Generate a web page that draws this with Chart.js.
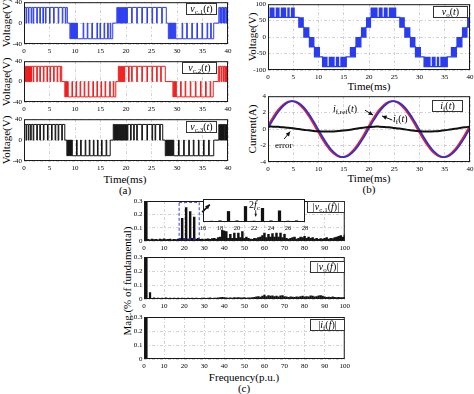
<!DOCTYPE html>
<html>
<head>
<meta charset="utf-8">
<script src="https://cdn.jsdelivr.net/npm/chart.js@4.4.1/dist/chart.umd.min.js"></script>
<style>
  body { margin: 0; width: 474px; height: 394px; position: relative; overflow: hidden; background: #fff;
         font-family: "Liberation Serif", "DejaVu Serif", serif; color: #000; }
  .plot { position: absolute; }
  .txt { position: absolute; white-space: nowrap; font-size: 11px; line-height: 11px; transform: translate(-50%, -50%); }
  .ylab { position: absolute; white-space: nowrap; font-size: 11px; line-height: 11px; transform: translate(-50%, -50%) rotate(-90deg); }
  .tag { position: absolute; height: 10px; border: 1px solid #333; background: #fff; font-size: 10px; line-height: 10px;
         text-align: center; white-space: nowrap; z-index: 5; }
  .note { position: absolute; white-space: nowrap; font-size: 10px; line-height: 10px; z-index: 5; }
  sub { font-size: 7px; vertical-align: -2px; line-height: 0; }
</style>
</head>
<body>
<div class="ylab" style="left:6px;top:23px">Voltage(V)</div>
<div class="ylab" style="left:6px;top:82px">Voltage(V)</div>
<div class="ylab" style="left:6px;top:140px">Voltage(V)</div>
<div class="txt" style="left:125px;top:179px">Time(ms)</div>
<div class="txt" style="left:125px;top:190px">(a)</div>

<div class="ylab" style="left:252px;top:37px">Voltage(V)</div>
<div class="txt" style="left:369px;top:86px">Time(ms)</div>
<div class="ylab" style="left:252px;top:129px">Current(A)</div>
<div class="txt" style="left:369px;top:178px">Time(ms)</div>
<div class="txt" style="left:369px;top:189px">(b)</div>

<div class="ylab" style="left:127px;top:281px">Mag.(% of fundamental)</div>
<div class="txt" style="left:244px;top:377px">Frequency(p.u.)</div>
<div class="txt" style="left:244px;top:388px">(c)</div>

<div class="tag" style="left:186px;top:3px;width:29px"><i>v</i><sub>c,1</sub>(<i>t</i>)</div>
<div class="tag" style="left:182px;top:62px;width:33px"><i>v</i><sub>c,2</sub>(<i>t</i>)</div>
<div class="tag" style="left:186px;top:121px;width:29px"><i>v</i><sub>c,3</sub>(<i>t</i>)</div>
<div class="tag" style="left:433px;top:6px;width:33px"><i>v</i><sub>o</sub>(<i>t</i>)</div>
<div class="tag" style="left:432px;top:100px;width:29px"><i>i</i><sub>f</sub>(<i>t</i>)</div>
<div class="tag" style="left:307px;top:201px;width:36px">|<i>v</i><sub>c,1</sub>(<i>f</i>)|</div>
<div class="tag" style="left:310px;top:261px;width:33px">|<i>v</i><sub>o</sub>(<i>f</i>)|</div>
<div class="tag" style="left:310px;top:319px;width:33px">|<i>i</i><sub>f</sub>(<i>f</i>)|</div>

<div class="note" style="left:333px;top:104px"><i>i</i><sub>f,ref</sub>(<i>t</i>)</div>
<div class="note" style="left:393px;top:114px"><i>i</i><sub>f</sub>(<i>t</i>)</div>
<div class="note" style="left:275px;top:140px;font-size:9px">error</div>
<div class="note" style="left:249px;top:200px;z-index:9">2<i>f</i><sub>c</sub></div>

<script>
// ---------- data ----------
const timeMs = [0, 1, 2, 3, 4, 5, 6, 7, 8, 9, 10, 11, 12, 13, 14, 15, 16, 17, 18, 19, 20,
  21, 22, 23, 24, 25, 26, 27, 28, 29, 30, 31, 32, 33, 34, 35, 36, 37, 38, 39, 40];

// (a) cell voltages: level changes [ms, V] and short dips to 0 V (ms)
const vc1Steps = [[0, 30], [8.5, 0], [9.0, -30], [17.4, 0], [18.2, 30], [27.9, 0], [28.3, -30], [37.2, 0], [38.2, 30]];
const vc1Dips = [0.4, 0.85, 1.4, 1.8, 2.5, 3.1, 3.7, 4.2, 5.0, 5.8, 6.7, 7.5, 8.1,
  9.15, 9.35, 9.55, 9.75, 9.95, 10.15, 10.35, 11.6, 12.4, 13.3, 14.3, 14.9, 15.7, 16.4, 16.9,
  18.35, 18.55, 18.75, 18.95, 19.15, 19.35, 19.55, 19.75, 19.95, 20.15, 21.1, 22.1, 23.1, 24.1, 25.1, 26.0, 27.0,
  28.45, 28.65, 28.85, 29.05, 29.25, 29.45, 29.65, 31.0, 31.9, 32.9, 33.9, 34.9, 35.9, 36.6,
  38.4, 38.7, 39.0, 39.3, 39.6];

const vc2Steps = [[0, 30], [7.4, 0], [8.0, -30], [18.0, 0], [18.5, 30], [27.7, 0], [29.2, -30], [37.1, 0], [38.1, 30]];
const vc2Dips = [0.15, 0.35, 0.55, 0.75, 0.95, 1.15, 1.35, 1.8, 2.5, 3.1, 3.8, 4.5, 5.1, 5.8, 6.5, 7.1,
  8.15, 8.35, 8.55, 9.4, 10.2, 11.0, 11.8, 12.6, 13.5, 14.3, 15.1, 15.9, 16.8, 17.5,
  18.65, 18.85, 19.05, 19.25, 19.45, 19.65, 20.5, 21.1, 22.1, 23.1, 24.1, 25.1, 26.0, 26.8,
  29.35, 29.55, 29.75, 30.7, 31.6, 32.6, 33.6, 34.6, 35.6, 36.5,
  38.3, 38.7, 39.1, 39.4, 39.7];

const vc3Steps = [[0, 30], [8.0, 0], [8.4, -30], [16.9, 0], [17.5, 30], [27.2, 0], [27.7, -30], [37.2, 0], [38.2, 30]];
const vc3Dips = [0.4, 0.85, 1.3, 1.8, 2.5, 3.1, 3.8, 4.6, 5.4, 6.1, 6.7, 7.4,
  8.55, 8.75, 8.95, 9.15, 9.35, 10.3, 11.1, 12.0, 12.8, 13.6, 14.4, 15.2, 16.1,
  17.65, 17.85, 18.05, 18.25, 18.45, 18.65, 18.85, 19.05, 19.25, 19.45, 19.65, 19.85, 20.05, 20.25,
  20.9, 21.5, 22.1, 23.1, 24.1, 25.1, 25.7, 26.6,
  27.85, 28.05, 28.25, 28.45, 28.65, 28.85, 29.05, 29.25, 30.3, 31.3, 32.3, 33.2, 34.2, 35.2, 36.2,
  38.35, 38.55, 38.75, 38.95, 39.15, 39.4, 39.7];

// (b) output voltage: switching band [hi, lo] starting at each time (ms)
const voT = [0, 0.3, 5.3, 6.1, 7.1, 8.2, 9.2, 10.3, 10.8, 15.5, 16.2, 17.3, 18.4, 19.4,
  20.3, 25.4, 26.1, 27.1, 28.2, 29.2, 30.3, 30.9, 35.5, 36.2, 37.3, 38.4, 39.4, 40];
const voHi = [60, 90, 60, 60, 30, 0, -30, -60, -60, -60, -30, 0, 30, 60,
  90, 60, 60, 30, 0, -30, -60, -60, -60, -30, 0, 30, 60, 60];
const voLo = [60, 60, 60, 30, 0, -30, -60, -60, -90, -60, -60, -30, 0, 30,
  60, 60, 30, 0, -30, -60, -60, -90, -60, -60, -30, 0, 30, 30];
// short pauses in the switching (white stripes), ms
const voGaps = [1.3, 2.3, 3.6, 4.3, 11.8, 13.2, 14.1, 21.7, 22.7, 23.7, 32.2, 33.2, 33.9];

// (b) filter current (A)
const ifRef = [0.43, 1.45, 2.33, 2.98, 3.34, 3.37, 3.08, 2.48, 1.64, 0.64, -0.43, -1.45, -2.33, -2.98, -3.34,
  -3.37, -3.08, -2.48, -1.64, -0.64, 0.43, 1.45, 2.33, 2.98, 3.34, 3.37, 3.08, 2.48, 1.64, 0.64,
  -0.43, -1.45, -2.33, -2.98, -3.34, -3.37, -3.08, -2.48, -1.64, -0.64, 0.43];
const ifMeas = [0.11, 1.15, 2.08, 2.81, 3.27, 3.40, 3.20, 2.69, 1.91, 0.95, -0.11, -1.15, -2.08, -2.81, -3.27,
  -3.40, -3.20, -2.69, -1.91, -0.95, 0.11, 1.15, 2.08, 2.81, 3.27, 3.40, 3.20, 2.69, 1.91, 0.95,
  -0.11, -1.15, -2.08, -2.81, -3.27, -3.40, -3.20, -2.69, -1.91, -0.95, 0.11];
const ifErr = [0.30, 0.30, 0.28, 0.22, 0.15, 0.10, 0.00, -0.08, -0.15, -0.22, -0.27, -0.30, -0.30, -0.28, -0.24,
  -0.18, -0.10, 0.00, 0.10, 0.18, 0.25, 0.30, 0.30, 0.27, 0.22, 0.14, 0.06, -0.03, -0.12, -0.20,
  -0.26, -0.30, -0.30, -0.27, -0.22, -0.15, -0.06, 0.03, 0.13, 0.22, 0.30];

// (c) spectra, % of fundamental, harmonic order 0..100
const orders = Array.from({length: 101}, (_, k) => k);
const vc1Spec = [0, 100,
  0.012, 0.008, 0.015, 0.01, 0.013, 0.009, 0.014, 0.011, 0.016, 0.01, 0.012, 0.015, 0.009, 0.013, 0.011, 0.014,
  0.02, 0.17, 0.02, 0.25, 0.015, 0.22, 0.02, 0.18, 0.015, 0.02,
  0.012, 0.015, 0.01, 0.014, 0.016, 0.012, 0.018, 0.02, 0.015, 0.025,
  0.03, 0.08, 0.075, 0.07, 0.02, 0.05, 0.02, 0.06, 0.02, 0.06, 0.025, 0.07, 0.02, 0.03, 0.02,
  0.015, 0.012, 0.02, 0.018, 0.025, 0.03,
  0.04, 0.06, 0.025, 0.05, 0.03, 0.055, 0.03, 0.06, 0.03, 0.06, 0.025, 0.05, 0.02,
  0.015, 0.02, 0.025, 0.03, 0.015, 0.02, 0.03, 0.025, 0.035, 0.02, 0.03, 0.02, 0.025, 0.015, 0.02,
  0.012, 0.018, 0.015, 0.02, 0.025, 0.015, 0.02, 0.018, 0.025, 0.03, 0.035, 0.04, 0.03, 0.045];
const voSpec = [0, 100, 0.005, 0.045,
  0.004, 0.008, 0.005, 0.006, 0.004, 0.007, 0.005, 0.008, 0.004, 0.006, 0.005, 0.007, 0.004, 0.006, 0.005, 0.006, 0.004,
  0.005, 0.006, 0.004, 0.007, 0.005, 0.006, 0.004, 0.005, 0.006, 0.007, 0.005, 0.006, 0.008, 0.005, 0.007, 0.006, 0.008, 0.01, 0.012, 0.01,
  0.008, 0.006, 0.009, 0.007, 0.01, 0.008, 0.011, 0.009, 0.008, 0.01, 0.007, 0.009, 0.008, 0.01, 0.012, 0.015, 0.018, 0.014, 0.02, 0.028,
  0.018, 0.025, 0.02, 0.022, 0.018, 0.02, 0.015, 0.022, 0.025, 0.018, 0.015, 0.012, 0.015, 0.014, 0.012, 0.016, 0.014, 0.018, 0.02, 0.015,
  0.018, 0.015, 0.022, 0.02, 0.016, 0.018, 0.022, 0.024, 0.02, 0.015, 0.012, 0.014, 0.012, 0.015, 0.012, 0.01, 0.012, 0.011, 0.01, 0.012];
const ifSpec = [0, 100];

const zoomBox = [17.5, 27.5, 0.015, 0.29]; // dashed box around 2fc in |vc1(f)|
const insetRange = [16, 28];

// ---------- drawing ----------
Chart.defaults.font.family = '"Liberation Serif", "DejaVu Serif", serif';
Chart.defaults.font.size = 7;
Chart.defaults.color = '#000';

const BLUE = '#2a3cf0', RED = '#ee1c1c', BLACK = '#111';
const YW = 30, XH = 11, PT = 6, PR = 8;
const DIP_MS = 0.12, GAP_MS = 0.22;

function mount(area) {
  const [l, t, r, b] = area;
  const div = document.createElement('div');
  div.className = 'plot';
  Object.assign(div.style, {
    left: (l - YW) + 'px', top: (t - PT) + 'px',
    width: (r - l + YW + PR) + 'px', height: (b - t + PT + XH) + 'px',
  });
  const cv = document.createElement('canvas');
  div.appendChild(cv);
  document.body.appendChild(div);
  return cv;
}

const frame = {
  id: 'frame',
  afterDraw(c) {
    const {ctx, chartArea: a} = c;
    ctx.save();
    ctx.strokeStyle = '#1a1a1a';
    ctx.lineWidth = 1;
    ctx.strokeRect(a.left + 0.5, a.top + 0.5, a.width - 1, a.height - 1);
    ctx.restore();
  },
};

function arrow(ctx, x0, y0, x1, y1, head) {
  const a = Math.atan2(y1 - y0, x1 - x0);
  ctx.beginPath(); ctx.moveTo(x0, y0); ctx.lineTo(x1, y1); ctx.stroke();
  ctx.beginPath(); ctx.moveTo(x1, y1);
  ctx.lineTo(x1 - head * Math.cos(a - 0.45), y1 - head * Math.sin(a - 0.45));
  ctx.lineTo(x1 - head * Math.cos(a + 0.45), y1 - head * Math.sin(a + 0.45));
  ctx.closePath(); ctx.fill();
}

const gridStyle = {color: '#b4b4b4', lineWidth: 0.6, drawTicks: false};
const gridBorder = {display: false, dash: [3, 2, 1, 2]};

function plot(area, type, datasets, xr, yr, extra = [], ypad = 2) {
  return new Chart(mount(area), {
    type,
    data: {datasets},
    options: {
      responsive: true, maintainAspectRatio: false, animation: false,
      layout: {padding: {top: PT, right: PR, left: 0, bottom: 0}},
      plugins: {legend: {display: false}, tooltip: {enabled: false}},
      scales: {
        x: {type: 'linear', min: xr[0], max: xr[1], offset: false,
            grid: {...gridStyle, offset: false}, border: gridBorder,
            ticks: {stepSize: xr[2], padding: 3, maxRotation: 0, autoSkip: false},
            afterFit: s => { s.height = XH; }},
        y: {type: 'linear', min: yr[0], max: yr[1], grid: gridStyle, border: gridBorder,
            ticks: {stepSize: yr[2], padding: ypad},
            afterFit: s => { s.width = YW; }},
      },
    },
    plugins: [frame, ...extra],
  });
}

function cellTrace(steps, dips) {
  const levelAt = t => steps.reduce((v, s) => (s[0] <= t ? s[1] : v), steps[0][1]);
  const pts = steps.map(s => ({x: s[0], y: s[1]}));
  dips.forEach(t => pts.push({x: t, y: 0}, {x: t + DIP_MS, y: levelAt(t)}));
  pts.sort((a, b) => a.x - b.x);
  pts.push({x: 40, y: levelAt(40)});
  return pts;
}

function voBand() {
  const hi = voT.map((t, k) => ({x: t, y: voHi[k]}));
  const lo = voT.map((t, k) => ({x: t, y: voLo[k]}));
  voGaps.forEach(t => {
    const k = voT.findLastIndex(s => s <= t);
    hi.push({x: t, y: voLo[k]}, {x: t + GAP_MS, y: voHi[k]});
  });
  hi.sort((a, b) => a.x - b.x);
  return [hi, lo];
}

const line = (data, color, width, more = {}) => ({
  data, borderColor: color, backgroundColor: color, borderWidth: width, pointRadius: 0, fill: false, ...more,
});

// (a)
plot([24, 2, 228, 44], 'line', [line(cellTrace(vc1Steps, vc1Dips), BLUE, 1, {stepped: true})], [0, 40, 5], [-40, 40, 20]);
plot([24, 61, 228, 102], 'line', [line(cellTrace(vc2Steps, vc2Dips), RED, 1, {stepped: true})], [0, 40, 5], [-40, 40, 20]);
plot([24, 119, 228, 161], 'line', [line(cellTrace(vc3Steps, vc3Dips), BLACK, 1, {stepped: true})], [0, 40, 5], [-40, 40, 20]);

// (b) output voltage
const [voHiPts, voLoPts] = voBand();
plot([268, 4, 470, 70], 'line', [
  line(voHiPts, BLUE, 0, {stepped: true, fill: '+1'}),
  line(voLoPts, BLUE, 1.2, {stepped: true}),
], [0, 40, 5], [-100, 100, 50]);

// (b) current
const currentNotes = {
  id: 'currentNotes',
  afterDatasetsDraw(c) {
    const {ctx, scales: {x, y}} = c;
    const P = (t, v) => [x.getPixelForValue(t), y.getPixelForValue(v)];
    ctx.save();
    ctx.strokeStyle = BLACK; ctx.fillStyle = BLACK; ctx.lineWidth = 1;
    arrow(ctx, ...P(19.2, 2.3), ...P(20.8, 1.7), 5);
    arrow(ctx, ...P(24.6, 1.1), ...P(22.6, 1.6), 5);
    arrow(ctx, ...P(3.2, -1.2), ...P(4.4, -0.3), 5);
    ctx.restore();
  },
};
plot([268, 96, 470, 162], 'line', [
  line(timeMs.map((t, k) => ({x: t, y: ifMeas[k]})), '#3030d0', 1.8, {tension: 0.4, order: 1}),
  line(timeMs.map((t, k) => ({x: t, y: ifRef[k]})), '#e8202a', 1.8, {tension: 0.4, order: 2}),
  line(timeMs.map((t, k) => ({x: t, y: ifErr[k]})), BLACK, 2, {tension: 0.4, order: 0}),
], [0, 40, 5], [-4, 4, 2], [currentNotes]);

// (c) spectra
const specBars = (spec, thick) => [
  {type: 'bar', data: orders.filter(k => k > 1 && k < spec.length).map(k => ({x: k, y: spec[k]})),
   backgroundColor: BLACK, barThickness: thick, grouped: false},
  {type: 'bar', data: [{x: 1, y: spec[1]}], backgroundColor: BLACK, barThickness: 2.5, grouped: false},
];
const zoomMark = {
  id: 'zoomMark',
  afterDatasetsDraw(c) {
    const {ctx, scales: {x, y}} = c;
    const x0 = x.getPixelForValue(zoomBox[0]), x1 = x.getPixelForValue(zoomBox[1]);
    const y0 = y.getPixelForValue(zoomBox[2]), y1 = y.getPixelForValue(zoomBox[3]);
    ctx.save();
    ctx.strokeStyle = '#3a3ad8'; ctx.lineWidth = 1; ctx.setLineDash([3, 2]);
    ctx.strokeRect(x0, y1, x1 - x0, y0 - y1);
    ctx.restore();
  },
};
plot([144, 201, 345, 241], 'bar', specBars(vc1Spec, 1.8), [0, 100, 10], [0, 0.3, 0.1], [zoomMark], 1.5);
plot([144, 257, 345, 299], 'bar', specBars(voSpec, 1.6), [0, 100, 10], [0, 0.3, 0.1], [], 1.5);
plot([144, 317, 345, 359], 'bar', specBars(ifSpec, 1.4), [0, 100, 10], [0, 0.3, 0.1], [], 1.5);

// inset of |vc1(f)| around 2fc
const insetDeco = {
  id: 'insetDeco',
  beforeDatasetsDraw(c) {
    const {ctx, chartArea: a} = c;
    ctx.save(); ctx.fillStyle = '#fff'; ctx.fillRect(a.left, a.top, a.width, a.height); ctx.restore();
  },
  afterDraw(c) {
    const {ctx, scales: {x, y}} = c;
    ctx.save();
    ctx.strokeStyle = BLACK; ctx.fillStyle = BLACK; ctx.lineWidth = 1.6;
    arrow(ctx, x.getPixelForValue(15.9), y.getPixelForValue(0.16), x.getPixelForValue(16.8), y.getPixelForValue(0.28), 5);
    ctx.lineWidth = 0.8;
    arrow(ctx, x.getPixelForValue(22.2), y.getPixelForValue(0.19), x.getPixelForValue(22.2), y.getPixelForValue(0.09), 3);
    ctx.restore();
  },
};
new Chart(mount([203, 199, 305, 222]), {
  type: 'bar',
  data: {datasets: [{
    data: orders.filter(k => k >= insetRange[0] && k <= insetRange[1]).map(k => ({x: k, y: vc1Spec[k]})),
    backgroundColor: BLACK, barThickness: 2.6,
  }]},
  options: {
    responsive: true, maintainAspectRatio: false, animation: false,
    layout: {padding: {top: PT, right: PR, left: 0, bottom: 0}},
    plugins: {legend: {display: false}, tooltip: {enabled: false}},
    scales: {
      x: {type: 'linear', min: insetRange[0], max: insetRange[1], offset: false,
          grid: {display: false, drawTicks: false, offset: false}, border: {display: false},
          ticks: {stepSize: 2, padding: 2, maxRotation: 0, autoSkip: false, color: '#000', font: {size: 6.5}},
          afterFit: s => { s.height = XH; }},
      y: {min: 0, max: 0.37, grid: {display: false, drawTicks: false}, border: {display: false}, ticks: {display: false},
          afterFit: s => { s.width = YW; }},
    },
  },
  plugins: [insetDeco, frame],
});
</script>
</body>
</html>
